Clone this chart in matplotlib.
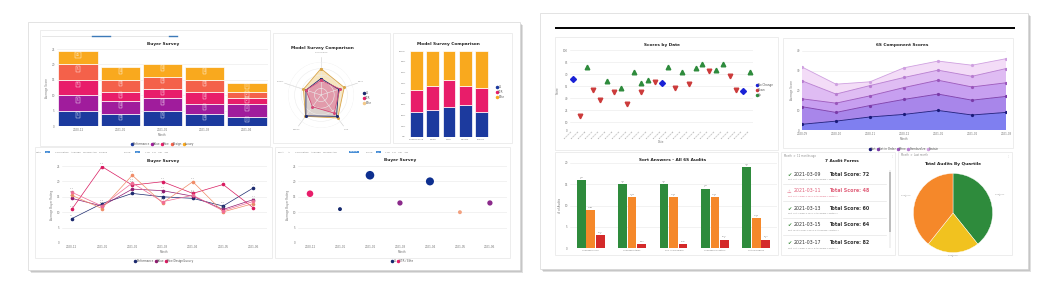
import numpy as np
import matplotlib.pyplot as plt
from matplotlib.patches import Rectangle
from matplotlib.lines import Line2D

W, H = 1062, 286

# ---------------- data ----------------
# Buyer Survey (stacked bars)
buyer_months = ['2020-12', '2021-01', '2021-02', '2021-03', '2021-04']
buyer_names = ['Performance', 'Value', 'Price', 'Design', 'Luxury']
buyer_perf = [5, 4, 5, 4, 3]
buyer_value = [5, 4, 4, 3, 4]
buyer_price = [5, 3, 3, 4, 2]
buyer_design = [5, 4, 4, 4, 2]
buyer_luxury = [4.5, 4, 4, 4, 3]

# Model Survey Comparison
model_axes = ['Performance', 'Value', 'Price', 'Design', 'Luxury']
model_names = ['LE', 'VTR', 'Elite']
radar_le = [12.5, 14, 20, 19.5, 12]
radar_vtr = [11, 15, 17, 11, 12]
radar_elite = [20, 18.5, 21.5, 20, 14]
pct_le = [29, 31, 35, 37, 29]
pct_vtr = [26, 28, 31, 22, 28]
pct_elite = [45, 41, 34, 41, 43]

# Buyer Survey (lines)
line_months = ['2020-12', '2021-01', '2021-02', '2021-03', '2021-04', '2021-05', '2021-06']
line_perf = [7.9, 12.8, 16.1, 15.0, 14.5, 12.0, 17.9]
line_value = [14.5, 12.0, 17.5, 17.0, 15.2, 10.9, 14.1]
line_price = [10.9, 24.8, 18.8, 19.9, 16.1, 19.0, 11.4]
line_design = [15.5, 11.2, 22.0, 13.0, 19.9, 10.1, 12.8]
line_luxury = [16.5, 12.0, 19.5, 13.4, 15.5, 10.5, 13.5]

# Buyer Survey (bubbles)
bubble_score = [16, 11, 22, 13, 20, 10, 13]
bubble_count = [14, 5, 24, 9, 21, 5, 9]

# Scores by Date
score_dates = ['01-04', '01-06', '01-08', '01-11', '01-13', '01-15', '01-18', '01-20', '01-22',
               '01-25', '01-27', '01-29', '02-01', '02-03', '02-05', '02-08', '02-10', '02-12',
               '02-15', '02-17', '02-19', '02-22', '02-24', '02-26', '03-01', '03-03', '03-05']
up_idx = [2, 5, 7, 9, 10, 11, 14, 16, 18, 19, 21, 22, 26]
up_val = [79, 61, 53, 72, 59, 63, 79, 72, 77, 83, 75, 83, 72]
down_idx = [1, 3, 4, 6, 8, 10, 12, 15, 17, 20, 23, 24]
down_val = [18, 50, 38, 48, 32, 48, 60, 53, 57, 74, 67, 50]
same_idx = [0, 13, 25]
same_val = [64, 59, 49]

# 6S Component Scores (stacked)
six_months = ['2020-09', '2020-10', '2020-11', '2020-12', '2021-01', '2021-02', '2021-03']
six_names = ['Sort', 'Set in Order', 'Shine', 'Standardize', 'Sustain']
six_sort = [2.9, 4.5, 6.6, 7.9, 9.9, 7.6, 8.9]
six_set = [8.9, 4.4, 5.8, 7.6, 8.3, 7.5, 8.1]
six_shine = [4.0, 4.7, 4.9, 6.0, 7.0, 6.7, 6.9]
six_std = [9.1, 4.6, 5.2, 5.1, 5.1, 5.4, 7.2]
six_sustain = [7.0, 5.0, 1.9, 4.9, 4.6, 5.6, 5.0]

# Sort Answers - All 6S Audits
sort_questions = ['Unneeded Tools', 'Unneeded Items', 'Tools in Workplace', 'Unneeded Inventory', 'Critical Repairs']
sort_yes = [16, 15, 15, 14, 19]
sort_some = [9, 12, 12, 12, 7]
sort_none = [3, 1, 1, 2, 2]

# 7 Audit Forms
audit_dates = ['2021-03-09', '2021-03-11', '2021-03-13', '2021-03-15', '2021-03-17']
audit_scores = [72, 48, 60, 64, 82]
audit_detail = ['Sort: 2 Set in Order: 8 Shine: 8 Standardize: 7 Sustain: 3',
                'Sort: 4 Set in Order: 2 Shine: 2 Standardize: 2 Sustain: 2',
                'Sort: 7 Set in Order: 6 Shine: 7 Standardize: 4 Sustain: 2',
                'Sort: 10 Set in Order: 8 Shine: 6 Standardize: 4 Sustain: 2',
                'Sort: 7 Set in Order: 9 Shine: 8 Standardize: 8 Sustain: 4']

# Total Audits By Quartile
quartile_names = ['Quartile 1', 'Quartile 3', 'Quartile 2']
quartile_counts = [11, 6, 11]

# ---------------- style ----------------
muted = '#777777'
grid_c = '#e8e8e8'
tick_fs = 2.0
title_fs = 3.1
c_navy = '#1c3a9e'
c_purple = '#a01c9c'
c_pink = '#e81d6a'
c_coral = '#f4614a'
c_orange = '#f9a91e'
c_green = '#2e8b3c'
c_red = '#cc3b3b'
c_amber = '#f5882a'

fig = plt.figure(figsize=(W / 100, H / 100), dpi=100)
fig.patch.set_facecolor('white')
bg = fig.add_axes([0, 0, 1, 1])
bg.set_xlim(0, W)
bg.set_ylim(H, 0)
bg.axis('off')


def px_axes(x0, y0, x1, y1, **kw):
    return fig.add_axes([x0 / W, 1 - y1 / H, (x1 - x0) / W, (y1 - y0) / H], **kw)


def card(x0, y0, x1, y1, ec='#e6e6e6', shadow=0):
    for i in range(shadow):
        bg.add_patch(Rectangle((x0 + 0.8 + i * 0.9, y0 + 0.8 + i * 0.9), x1 - x0, y1 - y0,
                               fc='#444444', ec='none', alpha=0.16))
    bg.add_patch(Rectangle((x0, y0), x1 - x0, y1 - y0, fc='white', ec=ec, lw=0.5))


def clean(ax, ygrid=True):
    ax.patch.set_alpha(0)
    for s in ax.spines.values():
        s.set_visible(False)
    ax.tick_params(length=0, labelsize=tick_fs, labelcolor=muted, pad=1.5)
    if ygrid:
        ax.grid(axis='y', color=grid_c, lw=0.4)
    ax.set_axisbelow(True)


def dot_legend(ax, labels, colors, **kw):
    handles = [Line2D([], [], ls='none', marker='o', ms=1.5, color=c) for c in colors]
    return ax.legend(handles, labels, frameon=False, fontsize=tick_fs, handletextpad=0.1,
                     borderpad=0, handlelength=0.6, labelcolor='#555555', **kw)


def title(x, y, s, fs=title_fs):
    bg.text(x, y, s, ha='center', va='center', fontsize=fs, fontweight='bold', color='#222222')


def toolbar(x, y, items):
    # items: (offset, text, highlighted)
    for dx, s, hi in items:
        if hi:
            bg.text(x + dx, y, s, fontsize=1.7, color='white', va='center',
                    bbox=dict(boxstyle='square,pad=0.25', fc='#4a8fd6', ec='none'))
        else:
            bg.text(x + dx, y, s, fontsize=1.7, color='#888888', va='center')


# ---------------- cards ----------------
card(28, 22, 520, 270, ec='#d8d8d8', shadow=3)
card(540, 13, 1028, 269, ec='#d8d8d8', shadow=3)

card(40, 30, 270, 146)
card(273, 33, 390, 143)
card(393, 33, 512, 143)
card(35, 147, 272, 258)
card(275, 147, 510, 258)

bg.plot([555, 1015], [28, 28], color='black', lw=1.4, solid_capstyle='butt')
card(555, 37, 778, 150)
card(783, 38, 1013, 148)
card(555, 152, 778, 255)
card(781, 152, 895, 255)
card(898, 152, 1012, 255)

# tab strip on the left card
bg.plot([42, 177], [36, 36], color='#e2e2e2', lw=0.6)
bg.plot([92, 110], [36, 36], color='#3d7ab8', lw=1.0)
bg.plot([169, 177], [36, 36], color='#3d7ab8', lw=1.0)

# ---------------- Buyer Survey stacked bar ----------------
title(163, 44, 'Buyer Survey')
ax = px_axes(57, 49, 268, 126)
x = np.arange(len(buyer_months))
bottom = np.zeros(len(buyer_months))
buyer_colors = [c_navy, c_purple, c_pink, c_coral, c_orange]
for vals, col in zip([buyer_perf, buyer_value, buyer_price, buyer_design, buyer_luxury], buyer_colors):
    vals = np.array(vals, dtype=float)
    ax.bar(x, vals, 0.93, bottom=bottom, color=col, edgecolor='white', lw=0.5)
    for xi, b, v in zip(x, bottom, vals):
        ax.text(xi, b + v * 0.7, f'{v:g}', ha='center', va='center', fontsize=1.8, color='white',
                bbox=dict(boxstyle='square,pad=0.35', fc='none', ec='white', lw=0.3))
    bottom += vals
ax.set_xlim(-0.5, len(buyer_months) - 0.5)
ax.set_ylim(0, 25)
ax.set_yticks([0, 5, 10, 15, 20, 25])
ax.set_xticks(x, buyer_months)
clean(ax)
ax.set_ylabel('Average Score', fontsize=tick_fs, color=muted, labelpad=2)
ax.set_xlabel('Month', fontsize=tick_fs, color=muted, labelpad=1)
dot_legend(ax, buyer_names, buyer_colors, loc='upper center', bbox_to_anchor=(0.5, -0.19),
           ncol=5, columnspacing=0.3)

# ---------------- radar ----------------
title(322, 48, 'Model Survey Comparison')
ax = px_axes(288, 62, 354, 128, projection='polar')
theta = np.linspace(0, 2 * np.pi, len(model_axes), endpoint=False)
ax.set_theta_offset(np.pi / 2)
ax.set_theta_direction(-1)
ax.set_ylim(0, 25)
tc = np.concatenate([theta, theta[:1]])
for vals, col, fc, a in [(radar_elite, '#d9a54a', '#f6e2b4', 0.85),
                         (radar_le, '#1c2a6e', '#c9c3d8', 0.6),
                         (radar_vtr, '#d44a78', '#e58aa0', 0.75)]:
    v = np.concatenate([vals, vals[:1]])
    ax.fill(tc, v, color=fc, alpha=a, lw=0)
    ax.plot(tc, v, color=col, lw=0.6, marker='o', ms=1.2)
for t in theta:
    ax.plot([t, t], [0, 29], color='#cccccc', lw=0.4, clip_on=False, zorder=0)
ax.set_xticks(theta, [''] * len(theta))
ax.set_yticks([5, 10, 15, 20, 25], [''] * 5)
ax.grid(color='#ececec', lw=0.4)
ax.spines['polar'].set_visible(False)
ax.patch.set_alpha(0)
for t, lab in zip(theta, model_axes):
    ax.text(t, 32, lab, fontsize=1.5, color='#999999', ha='center', va='center',
            rotation=0, clip_on=False)
leg_ax = px_axes(362, 86, 390, 110)
leg_ax.axis('off')
dot_legend(leg_ax, model_names, ['#1c2a6e', c_pink, '#f3c98a'], loc='center left')

# ---------------- percent stacked bar ----------------
title(448, 44, 'Model Survey Comparison')
ax = px_axes(408, 51, 490, 137)
x = np.arange(len(model_axes))
bottom = np.zeros(len(model_axes))
for vals, col in zip([pct_le, pct_vtr, pct_elite], [c_navy, c_pink, c_orange]):
    vals = np.array(vals, dtype=float)
    ax.bar(x, vals, 0.8, bottom=bottom, color=col, edgecolor='white', lw=0.5)
    bottom += vals
ax.set_xlim(-0.55, len(model_axes) - 0.45)
ax.set_ylim(0, 100)
pticks = [0, 12.5, 25, 37.5, 50, 62.5, 75, 87.5, 100]
ax.set_yticks(pticks, ['0%', '13%', '25%', '38%', '50%', '63%', '75%', '88%', '100%'])
ax.set_xticks(x, model_axes)
clean(ax, ygrid=False)
ax.tick_params(labelsize=1.7)
leg_ax = px_axes(495, 80, 512, 104)
leg_ax.axis('off')
dot_legend(leg_ax, model_names, [c_navy, c_pink, c_orange], loc='center left')

# ---------------- Buyer Survey lines ----------------
toolbar(36, 152, [(0, 'Data', False), (10, 'All', True), (19, 'Cumulative   Average   Moving Avg   Rolling', False),
                  (88, 'Period', False), (100, 'All', True), (109, 'YTD   1yr   6m   3m', False)])
title(163, 161, 'Buyer Survey')
ax = px_axes(62, 166, 267, 243)
x = np.arange(len(line_months))
line_colors = ['#1c2a6e', '#8e1b6f', '#d81b60', '#f08c68', '#f06c96']
for vals, col in zip([line_perf, line_value, line_price, line_design, line_luxury], line_colors):
    ax.plot(x, vals, '-', color=col, lw=0.5, marker='o', ms=1.6)
    for xi, v in zip(x, vals):
        ax.text(xi, v + 0.9, f'{v:.1f}', ha='center', va='bottom', fontsize=1.3, color='#888888')
ax.set_xlim(-0.32, 6.45)
ax.set_ylim(0, 25)
ax.set_yticks([0, 5, 10, 15, 20, 25])
ax.set_xticks(x, line_months)
clean(ax)
ax.set_ylabel('Average Buyer Rating', fontsize=tick_fs, color=muted, labelpad=2)
ax.set_xlabel('Month', fontsize=tick_fs, color=muted, labelpad=1)
dot_legend(ax, ['Performance', 'Value', 'Price/Design/Luxury'], line_colors[:3],
           loc='upper center', bbox_to_anchor=(0.5, -0.19), ncol=3, columnspacing=0.3)

# ---------------- Buyer Survey bubbles ----------------
toolbar(278, 152, [(0, 'Chart', False), (10, 'All', False), (17, 'Cumulative   Average   Moving Avg', False),
                   (72, 'Rolling', True), (88, 'Period', False), (99, 'All', True), (107, 'YTD   1yr   6m   3m', False)])
title(400, 160, 'Buyer Survey')
ax = px_axes(298, 166, 507, 243)
x = np.arange(len(line_months))
bubble_colors = [c_pink, '#14286e', '#0d2f8f', '#8b2a8b', '#0d2f8f', '#f2a07f', '#8b2a8b']
ax.scatter(x, bubble_score, s=np.array(bubble_count) * 1.6, c=bubble_colors, lw=0, zorder=3)
ax.set_xlim(-0.4, 6.57)
ax.set_ylim(0, 25)
ax.set_yticks([0, 5, 10, 15, 20, 25])
ax.set_xticks(x, line_months)
clean(ax)
ax.set_ylabel('Average Buyer Rating', fontsize=tick_fs, color=muted, labelpad=2)
ax.set_xlabel('Month', fontsize=tick_fs, color=muted, labelpad=1)
dot_legend(ax, ['LE', 'VTR / Elite'], ['#14286e', c_pink], loc='upper center',
           bbox_to_anchor=(0.5, -0.19), ncol=2, columnspacing=0.3)

# ---------------- Scores by Date ----------------
title(662, 45, 'Scores by Date')
ax = px_axes(570, 50, 753, 130)
ax.plot(up_idx, up_val, ls='none', marker='^', ms=3.3, color=c_green)
ax.plot(down_idx, down_val, ls='none', marker='v', ms=3.3, color=c_red)
ax.plot(same_idx, same_val, ls='none', marker='D', ms=3.0, color='#1a22d6')
ax.set_xlim(-0.44, len(score_dates) - 0.56)
ax.set_ylim(0, 100)
ax.set_yticks([0, 10, 25, 40, 55, 70, 85, 100])
ax.set_xticks(np.arange(len(score_dates)), ['2021-' + d for d in score_dates], rotation=45, ha='right')
clean(ax)
ax.tick_params(axis='x', labelsize=1.4, pad=0.5)
ax.set_ylabel('Score', fontsize=tick_fs, color=muted, labelpad=2)
ax.set_xlabel('Date', fontsize=tick_fs, color=muted, labelpad=0.5)
dot_legend(ax, ['No Change', 'Down', 'Up'], ['#1a22d6', c_red, c_green], loc='center left',
           bbox_to_anchor=(1.01, 0.5), labelspacing=0.5)

# ---------------- 6S Component Scores ----------------
title(902, 45, '6S Component Scores')
ax = px_axes(802, 51, 1006, 130)
x = np.arange(len(six_months))
layers = [six_sort, six_set, six_shine, six_std, six_sustain]
fill_cols = ['#7f7ff0', '#a886ea', '#c79ff0', '#dfbcf3', '#f3dcf7']
line_cols = ['#1a1a7a', '#7a3aa8', '#9a55bb', '#b77cd0', '#cfa0e0']
ax.stackplot(x, *layers, colors=fill_cols, lw=0)
cum = np.cumsum(np.array(layers), axis=0)
for row, col in zip(cum, line_cols):
    ax.plot(x, row, color=col, lw=0.6, marker='o', ms=1.3)
ax.set_xlim(0, len(six_months) - 1)
ax.set_ylim(0, 40)
ax.set_yticks([0, 10, 20, 30, 40])
ax.set_xticks(x, six_months)
clean(ax)
ax.set_ylabel('Average Score', fontsize=tick_fs, color=muted, labelpad=2)
ax.set_xlabel('Month', fontsize=tick_fs, color=muted, labelpad=1)
dot_legend(ax, six_names, line_cols, loc='upper center', bbox_to_anchor=(0.5, -0.2),
           ncol=5, columnspacing=0.3)

# ---------------- Sort Answers ----------------
title(673, 160, 'Sort Answers - All 6S Audits')
ax = px_axes(570, 163, 777, 248)
x = np.arange(len(sort_questions))
bw = 0.21
for off, vals, col, lab in [(-1, sort_yes, c_green, 'Yes'), (0, sort_some, c_amber, 'Some'),
                            (1, sort_none, '#d42a2a', 'None')]:
    ax.bar(x + off * (bw + 0.02), vals, bw, color=col, lw=0)
    for xi, v in zip(x, vals):
        ax.text(xi + off * (bw + 0.02), v + 0.3, f'{lab}\n{v}', ha='center', va='bottom',
                fontsize=1.3, color='#888888', linespacing=0.9)
ax.set_xlim(-0.5, len(sort_questions) - 0.5)
ax.set_ylim(0, 20)
ax.set_yticks([0, 5, 10, 15, 20])
ax.set_xticks(x, sort_questions)
clean(ax)
ax.tick_params(axis='x', labelsize=1.5)
ax.set_ylabel('# of Audits', fontsize=tick_fs, color=muted, labelpad=2)

# ---------------- 7 Audit Forms ----------------
bg.text(784, 155.5, 'Month  >  12 months ago', fontsize=1.8, color='#888888', va='center')
bg.text(891, 155.5, '⋮', fontsize=2, color='#aaaaaa', va='center')
title(842, 161.5, f'{len(audit_dates) + 2} Audit Forms')
row_y = [174, 191, 208, 225, 243]
for i, (d, sc, det, yy) in enumerate(zip(audit_dates, audit_scores, audit_detail, row_y)):
    warn = sc < 50
    col = '#e0607a' if warn else '#333333'
    icon = '⚠' if warn else '✔'
    bg.text(787, yy, icon, fontsize=3.6, color='#e0607a' if warn else '#3a8a3a', va='center')
    bg.text(793.5, yy, d, fontsize=3.4, color=col, va='center')
    bg.text(829, yy, f'Total Score: {sc}', fontsize=3.4, color=col, va='center', fontweight='bold')
    bg.text(788, yy + 5, det, fontsize=1.3, color='#e0607a' if warn else '#888888', va='center')
    if i < len(row_y) - 1:
        bg.plot([783, 886], [yy + 10, yy + 10], color='#e6e6e6', lw=0.5)
bg.add_patch(Rectangle((888.5, 170), 2.5, 78, fc='#f1f1f1', ec='none'))
bg.add_patch(Rectangle((888.5, 172), 2.5, 60, fc='#bdbdbd', ec='none'))

# ---------------- Total Audits By Quartile ----------------
bg.text(901, 155.5, 'Month  >  Last month', fontsize=1.8, color='#888888', va='center')
bg.text(1007, 155.5, '⋮', fontsize=2, color='#aaaaaa', va='center')
title(953, 164, 'Total Audits By Quartile')
ax = px_axes(913, 173, 993, 253)
ax.pie(quartile_counts, colors=[c_green, '#f1c21f', c_amber], startangle=90, counterclock=False,
       wedgeprops=dict(lw=0.3, ec='white'))
ax.set_xlim(-1.01, 1.01)
ax.set_ylim(-1.01, 1.01)
ax.set_aspect('equal')
bg.text(1000, 195, f'{quartile_names[0]}\n{quartile_counts[0]}', fontsize=1.4, color='#888888',
        ha='center', va='center')
bg.text(906, 196, f'{quartile_names[2]}\n{quartile_counts[2]}', fontsize=1.4, color='#888888',
        ha='center', va='center')
bg.text(953, 255.5, f'{quartile_names[1]}\n{quartile_counts[1]}', fontsize=1.4, color='#888888',
        ha='center', va='center')

fig.savefig('out.png', dpi=100, facecolor='white')
